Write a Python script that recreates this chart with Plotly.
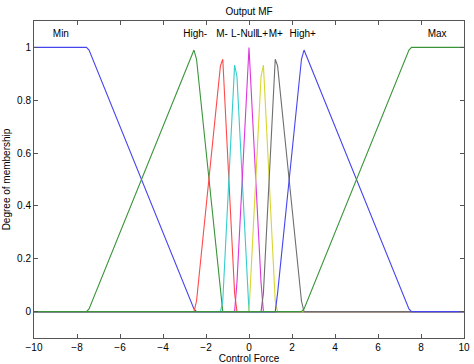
import plotly.graph_objects as go

# Membership-function polylines (x, degree)
MIN_X = [-10, -7.56, -7.44, -2.56, -2.44, 10]
MIN_Y = [1, 1, 0.99, 0.01, 0, 0]
HIGHN_X = [-10, -7.56, -7.44, -2.56, -2.44, -1.33, -1.22, 10]
HIGHN_Y = [0, 0, 0.01, 0.99, 0.955, 0.07, 0, 0]
MN_X = [-10, -2.56, -2.44, -1.33, -1.22, -0.67, -0.56, 10]
MN_Y = [0, 0, 0.04, 0.93, 0.955, 0.07, 0, 0]
LN_X = [-10, -1.33, -1.22, -0.67, -0.56, 0, 10]
LN_Y = [0, 0, 0.04, 0.933, 0.89, 0, 0]
NULL_X = [-10, -0.67, -0.56, 0, 0.56, 0.67, 10]
NULL_Y = [0, 0, 0.11, 1, 0.11, 0, 0]
LP_X = [-10, 0, 0.56, 0.67, 1.22, 1.33, 10]
LP_Y = [0, 0, 0.89, 0.933, 0.04, 0, 0]
MP_X = [-10, 0.56, 0.67, 1.22, 1.33, 2.44, 2.56, 10]
MP_Y = [0, 0, 0.07, 0.955, 0.93, 0.04, 0, 0]
HP_X = [-10, 1.22, 1.33, 2.44, 2.56, 7.44, 7.56, 10]
HP_Y = [0, 0, 0.07, 0.955, 0.99, 0.01, 0, 0]
MAX_X = [-10, 2.44, 2.56, 7.44, 7.56, 10]
MAX_Y = [0, 0, 0.01, 0.99, 1, 1]

MF_NAMES = ["Min", "High-", "M-", "L-", "Null", "L+", "M+", "High+", "Max"]
MF_LABEL_X = [-8.75, -2.5, -1.25, -0.625, 0, 0.625, 1.25, 2.5, 8.75]
MF_LABEL_Y = 1.05

X_TICKS = [-10, -8, -6, -4, -2, 0, 2, 4, 6, 8, 10]
Y_TICKS = [0, 0.2, 0.4, 0.6, 0.8, 1]
Y_TICK_TEXT = ["0", "0.2", "0.4", "0.6", "0.8", "1"]

series = [
    (MIN_X, MIN_Y, "#4646ee"),
    (HIGHN_X, HIGHN_Y, "#3a953a"),
    (MN_X, MN_Y, "#ff4a4a"),
    (LN_X, LN_Y, "#35cccc"),
    (NULL_X, NULL_Y, "#dd35dd"),
    (LP_X, LP_Y, "#d6d632"),
    (MP_X, MP_Y, "#6e6e6e"),
    (HP_X, HP_Y, "#4646ee"),
    (MAX_X, MAX_Y, "#3a953a"),
]

FONT = "Liberation Sans, Arial"

fig = go.Figure()
for xs, ys, col in series:
    fig.add_trace(go.Scatter(x=xs, y=ys, mode="lines",
                             line=dict(color=col, width=1.1),
                             showlegend=False, hoverinfo="skip"))

fig.add_trace(go.Scatter(x=MF_LABEL_X, y=[MF_LABEL_Y] * len(MF_NAMES),
                         mode="text", text=MF_NAMES,
                         textfont=dict(family=FONT, size=10, color="#000"),
                         textposition="middle center",
                         showlegend=False, hoverinfo="skip"))

axis_common = dict(showgrid=False, zeroline=False, showline=True,
                   linecolor="#555", linewidth=1, mirror="ticks",
                   ticks="inside", ticklen=4, tickcolor="#555",
                   automargin=False, ticklabelstandoff=0,
                   tickfont=dict(family=FONT, size=10, color="#000"))

fig.update_layout(
    width=474, height=364,
    margin=dict(l=34, r=10, t=21, b=26, autoexpand=False),
    paper_bgcolor="white", plot_bgcolor="white",
    title=dict(text="Output MF", x=249 / 474, xanchor="center",
               y=1 - 11 / 364, yanchor="middle", yref="container", automargin=False,
               font=dict(family=FONT, size=10, color="#000")),
    xaxis=dict(range=[-10, 10], tickvals=X_TICKS,
               title=dict(text="Control Force", standoff=0,
                          font=dict(family=FONT, size=10, color="#000")),
               **axis_common),
    yaxis=dict(range=[-0.1, 1.1], tickvals=Y_TICKS, ticktext=Y_TICK_TEXT,
               title=dict(text="Degree of membership", standoff=4,
                          font=dict(family=FONT, size=10, color="#000")),
               **axis_common),
)

fig.write_html("out.html", config={"displayModeBar": False},
               post_script="document.body.style.margin='0';document.body.style.overflow='hidden';")
